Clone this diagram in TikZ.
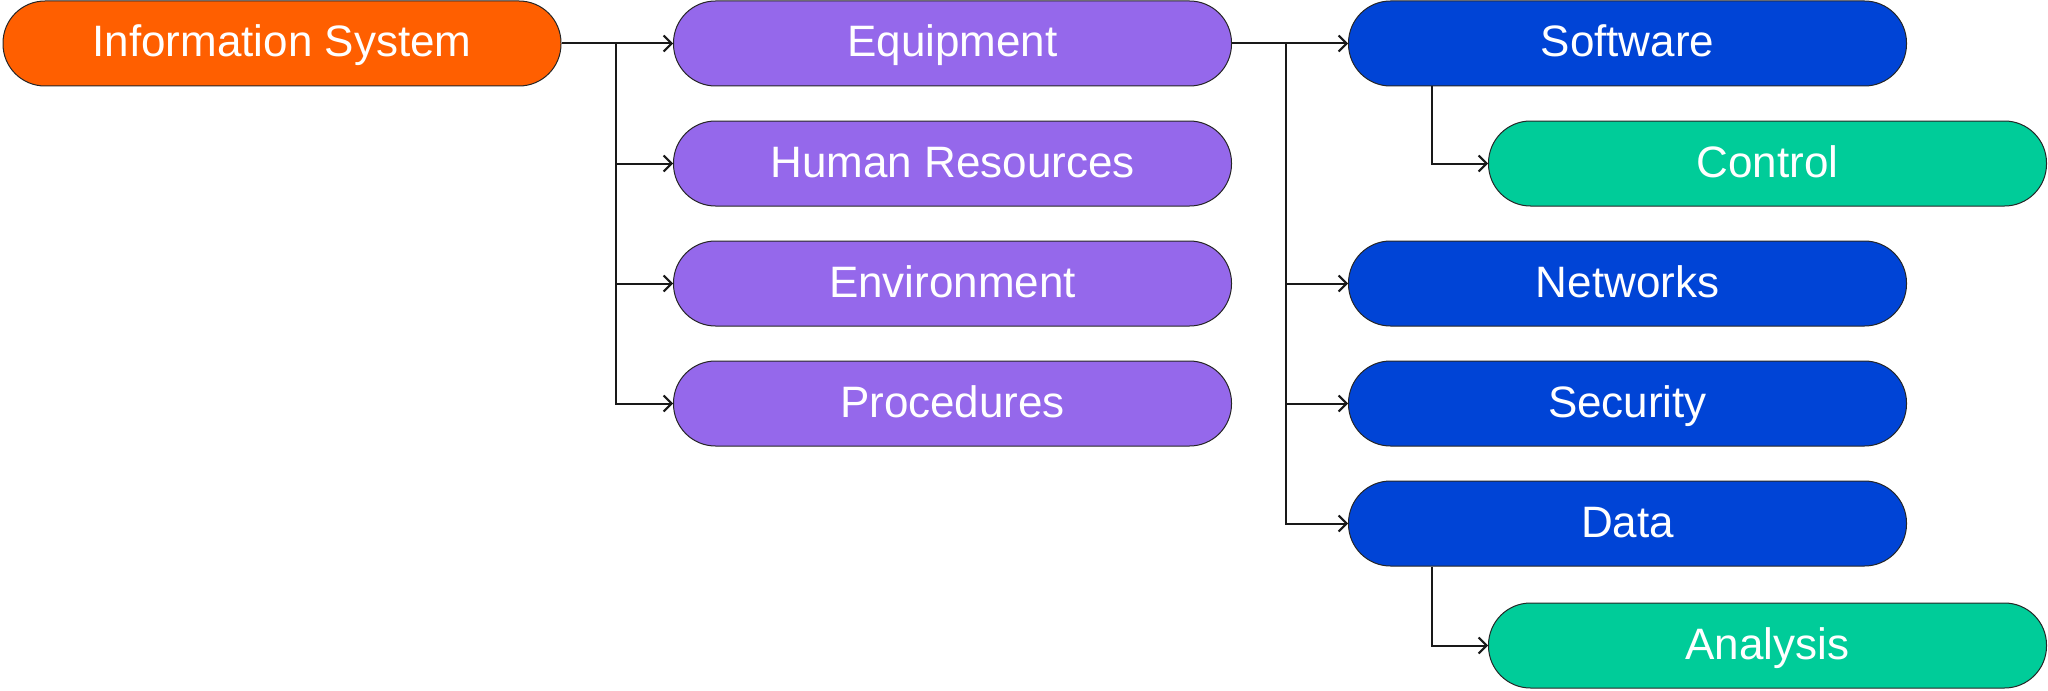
\documentclass[tikz,border=0pt]{standalone}
\usepackage{fontspec}
\setmainfont{Liberation Sans}
\usetikzlibrary{arrows.meta}
\definecolor{cOrange}{HTML}{FF5F00}
\definecolor{cPurple}{HTML}{9568EB}
\definecolor{cBlue}{HTML}{0044D6}
\definecolor{cGreen}{HTML}{00CC99}
\tikzset{
  pill/.style={draw=black!85, line width=0.5pt, rounded corners=21pt,
    minimum width=279pt, minimum height=42.5pt, inner sep=0pt,
    text height=15.8pt, text depth=2.3pt,
    text=white, font=\fontsize{22}{26}\selectfont, anchor=center},
  orangebox/.style={pill, fill=cOrange},
  purplebox/.style={pill, fill=cPurple},
  bluebox/.style={pill, fill=cBlue},
  greenbox/.style={pill, fill=cGreen},
  conn/.style={draw=black!90, line width=1pt, -{Straight Barb[length=4pt,width=8pt,line width=1pt]}},
  trunk/.style={draw=black!90, line width=1pt}
}
\begin{document}
\begin{tikzpicture}[x=0.5pt,y=-0.5pt]
\useasboundingbox (0,0) rectangle (2048,690);
\node[orangebox] (info) at (282,43.5) {Information System};
\node[purplebox] (equip) at (952.5,43.5) {Equipment};
\node[purplebox] (human) at (952.5,163.5) {Human Resources};
\node[purplebox] (env) at (952.5,283.5) {Environment};
\node[purplebox] (proc) at (952.5,403.5) {Procedures};
\node[bluebox] (soft) at (1627.5,43.5) {Software};
\node[greenbox] (ctrl) at (1767.5,163.5) {Control};
\node[bluebox] (net) at (1627.5,283.5) {Networks};
\node[bluebox] (sec) at (1627.5,403.5) {Security};
\node[bluebox] (data) at (1627.5,523.5) {Data};
\node[greenbox] (anal) at (1767.5,645.5) {Analysis};
\coordinate (j1) at (616,43.5);
\coordinate (j2) at (1286,43.5);
\draw[conn] (info.east) -- (equip.west);
\draw[conn] (j1) |- (human.west);
\draw[conn] (j1) |- (env.west);
\draw[conn] (j1) |- (proc.west);
\draw[conn] (equip.east) -- (soft.west);
\draw[conn] (j2) |- (net.west);
\draw[conn] (j2) |- (sec.west);
\draw[conn] (j2) |- (data.west);
\draw[conn] (soft.south west) ++(84,0) |- (ctrl.west);
\draw[conn] (data.south west) ++(84,0) |- (anal.west);
\end{tikzpicture}
\end{document}
